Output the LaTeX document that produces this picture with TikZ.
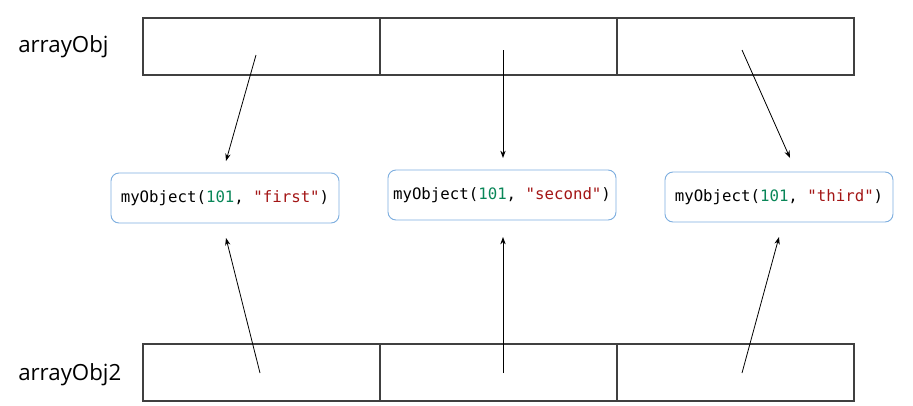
\documentclass[tikz,border=0pt]{standalone}
\usepackage{fontspec}
\setmainfont{Open Sans}
\newfontfamily\codefont{DejaVu Sans Mono}
\usetikzlibrary{arrows.meta}
\definecolor{numgreen}{HTML}{098658}
\definecolor{strred}{HTML}{A31515}
\definecolor{boxblue}{HTML}{7EAEDF}
\definecolor{linegray}{HTML}{404040}
\tikzset{
  cell/.style={draw=linegray, line width=0.9pt, minimum width=177.75pt, minimum height=42.75pt, inner sep=0pt},
  objbox/.style={draw=boxblue, line width=0.7pt, rounded corners=6pt, minimum width=171pt, minimum height=37.5pt, inner sep=0pt, font=\codefont\fontsize{11.8}{14}\selectfont},
  lbl/.style={font=\fontsize{16.7}{20}\selectfont, anchor=west, inner sep=0pt},
  ptr/.style={draw=black, line width=0.6pt, -{Stealth[length=5.5pt,width=4pt]}}
}
\newcommand{\objtext}[1]{myObject(\textcolor{numgreen}{101}, \textcolor{strred}{"#1"})}
\begin{document}
\begin{tikzpicture}[x=0.75pt,y=-0.75pt]
\useasboundingbox (0,0) rectangle (913,405);
% top array
\node[cell] (t1) at (261.5,46.5) {};
\node[cell] (t2) at (498.5,46.5) {};
\node[cell] (t3) at (735.5,46.5) {};
% bottom array
\node[cell] (b1) at (261.5,372.5) {};
\node[cell] (b2) at (498.5,372.5) {};
\node[cell] (b3) at (735.5,372.5) {};
% labels
\node[lbl] (l1) at (18,47) {arrayObj};
\node[lbl] (l2) at (18,375) {arrayObj2};
% objects
\node[objbox] (o1) at (225,198) {\objtext{first}};
\node[objbox] (o2) at (502,195) {\objtext{second}};
\node[objbox] (o3) at (779,197) {\objtext{third}};
% pointer origins
\coordinate (s1) at (256,55);
\coordinate (s2) at (503,50);
\coordinate (s3) at (742,50);
\coordinate (e1) at (226,161);
\coordinate (e2) at (503,158);
\coordinate (e3) at (790,158);
\coordinate (r1) at (260,373);
\coordinate (r2) at (503,373);
\coordinate (r3) at (742,373);
\coordinate (f1) at (226,238);
\coordinate (f2) at (503,237);
\coordinate (f3) at (779,237);
\draw[ptr] (s1) -- (e1);
\draw[ptr] (s2) -- (e2);
\draw[ptr] (s3) -- (e3);
\draw[ptr] (r1) -- (f1);
\draw[ptr] (r2) -- (f2);
\draw[ptr] (r3) -- (f3);
\end{tikzpicture}
\end{document}
